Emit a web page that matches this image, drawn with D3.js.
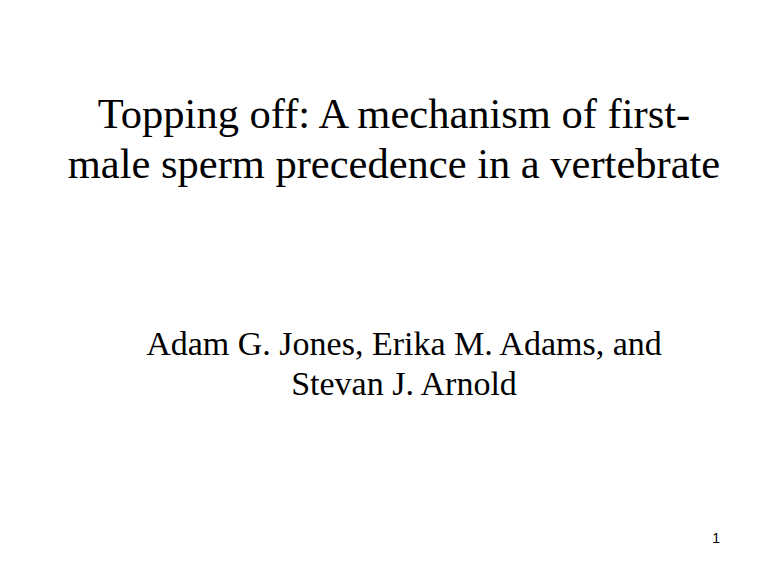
<!DOCTYPE html>
<html><head><meta charset="utf-8">
<script src="https://cdn.jsdelivr.net/npm/d3@7"></script>
<style>html,body{margin:0;padding:0;background:#fff;}</style>
</head><body>
<script>
const titleLines = ["Topping off: A mechanism of first-", "male sperm precedence in a vertebrate"];
const authorLines = ["Adam G. Jones, Erika M. Adams, and", "Stevan J. Arnold"];
const pageNumber = ["1"];

const W = 768, H = 576;
const svg = d3.select("body").append("svg").attr("width", W).attr("height", H);
svg.append("rect").attr("width", W).attr("height", H).attr("fill", "#fff");

const title = svg.append("g").attr("font-family", "'Liberation Serif','Times New Roman',serif")
  .attr("font-size", 42.5).attr("fill", "#000").attr("text-anchor", "middle");
title.selectAll("text").data(titleLines).join("text")
  .attr("x", 394).attr("y", (d, i) => 128 + i * 50).text(d => d);

const authors = svg.append("g").attr("font-family", "'Liberation Serif','Times New Roman',serif")
  .attr("font-size", 34).attr("fill", "#000").attr("text-anchor", "middle");
authors.selectAll("text").data(authorLines).join("text")
  .attr("x", 404).attr("y", (d, i) => 355 + i * 40).text(d => d);

svg.append("g").attr("font-family", "'Liberation Sans',Arial,sans-serif")
  .attr("font-size", 14).attr("fill", "#000").attr("text-anchor", "end")
  .selectAll("text").data(pageNumber).join("text")
  .attr("x", 720).attr("y", 543).text(d => d);
</script>
</body></html>
